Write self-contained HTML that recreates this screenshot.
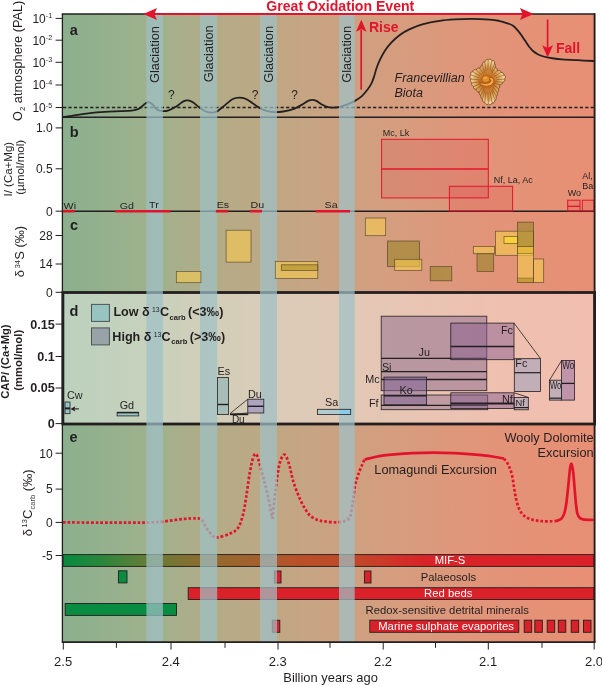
<!DOCTYPE html>
<html lang="en"><head><meta charset="utf-8"><title>Great Oxidation Event</title>
<style>
html,body{margin:0;padding:0;background:#fff;}
body{width:602px;height:685px;overflow:hidden;}
svg{display:block;}
text{font-family:"Liberation Sans",Arial,Helvetica,sans-serif;fill:#231f20;}
.b{font-weight:bold;}
.i{font-style:italic;}
.r{fill:#e2142d;}
.w{fill:#fff;}
.t{font-size:11.3px;}
.s{font-size:9px;}
.m{font-size:10.8px;}
</style></head><body>
<svg width="602" height="685" viewBox="0 0 602 685">
<defs>
<linearGradient id="bg" x1="0" x2="1" y1="0" y2="0">
<stop offset="0" stop-color="#8bb08d"/>
<stop offset="0.17" stop-color="#a0b18d"/>
<stop offset="0.30" stop-color="#b5ab86"/>
<stop offset="0.45" stop-color="#c5a583"/>
<stop offset="0.56" stop-color="#cfa080"/>
<stop offset="0.64" stop-color="#d79c7e"/>
<stop offset="0.80" stop-color="#e29478"/>
<stop offset="1" stop-color="#e88f75"/>
</linearGradient>
<linearGradient id="mif" x1="0" x2="1" y1="0" y2="0">
<stop offset="0" stop-color="#078a3f"/>
<stop offset="0.07" stop-color="#28873c"/>
<stop offset="0.156" stop-color="#647d37"/>
<stop offset="0.22" stop-color="#7d7332"/>
<stop offset="0.29" stop-color="#96692d"/>
<stop offset="0.37" stop-color="#a55f2d"/>
<stop offset="0.446" stop-color="#b95028"/>
<stop offset="0.52" stop-color="#bf4a28"/>
<stop offset="0.56" stop-color="#c24628"/>
<stop offset="0.60" stop-color="#ca3c28"/>
<stop offset="0.64" stop-color="#d32e28"/>
<stop offset="0.68" stop-color="#d82428"/>
<stop offset="1" stop-color="#da2129"/>
</linearGradient>
<radialGradient id="bio" gradientUnits="userSpaceOnUse" cx="0" cy="0" r="23" gradientTransform="translate(487.4,81.5) scale(0.78,1)">
<stop offset="0" stop-color="#bd6820"/>
<stop offset="0.32" stop-color="#c87428"/>
<stop offset="0.52" stop-color="#d48c3e"/>
<stop offset="0.72" stop-color="#e2ae68"/>
<stop offset="0.9" stop-color="#f0d092"/>
<stop offset="1" stop-color="#f5dca4"/>
</radialGradient>
<linearGradient id="sa" x1="0" x2="1" y1="0" y2="0"><stop offset="0" stop-color="#b6cbcd"/><stop offset="0.6" stop-color="#adcbd1"/><stop offset="0.7" stop-color="#8fcbe6"/><stop offset="1" stop-color="#84cdec"/></linearGradient>
</defs>

<rect x="63.0" y="14.0" width="531.0" height="628.0" fill="url(#bg)"/>
<rect x="63" y="292.5" width="531" height="131.5" fill="#fff" fill-opacity="0.42"/>
<path d="M62.5,117.1 C64.0,116.9 67.3,116.4 71.6,115.8 C75.9,115.2 82.7,114.0 88.2,113.3 C93.7,112.6 99.3,112.1 104.8,111.8 C110.3,111.5 116.7,111.4 121.4,111.2 C126.1,111.0 130.3,110.8 133.1,110.4 C135.9,110.1 136.7,109.7 138.1,109.1 C139.5,108.5 140.2,108.0 141.4,107.0 C142.6,106.0 144.2,104.2 145.5,103.4 C146.8,102.6 147.8,101.8 149.0,102.1 C150.2,102.3 151.8,103.8 153.0,104.9 C154.2,106.0 154.9,107.9 156.3,108.9 C157.7,109.9 159.4,110.6 161.3,110.9 C163.2,111.2 165.5,111.3 168.0,110.6 C170.5,109.9 173.8,108.1 176.3,106.6 C178.8,105.1 181.0,102.6 182.9,101.6 C184.8,100.5 186.2,100.2 187.9,100.3 C189.6,100.4 191.0,101.1 192.9,102.3 C194.8,103.5 197.3,106.0 199.5,107.6 C201.7,109.1 204.0,110.8 206.2,111.6 C208.4,112.4 210.9,112.7 212.8,112.6 C214.7,112.5 215.9,112.1 217.8,110.9 C219.8,109.7 222.0,107.6 224.5,105.6 C227.0,103.6 230.3,100.3 232.8,99.0 C235.3,97.7 237.2,97.6 239.4,97.6 C241.6,97.6 243.8,98.0 246.0,99.0 C248.2,100.0 250.4,101.8 252.7,103.3 C255.0,104.8 257.7,107.0 260.0,108.2 C262.3,109.5 264.1,110.1 266.6,110.8 C269.1,111.5 272.1,112.1 274.9,112.2 C277.7,112.3 280.1,112.0 283.2,111.5 C286.2,111.0 290.1,110.3 293.2,109.2 C296.2,108.1 299.0,106.3 301.5,104.9 C304.0,103.5 306.3,101.7 308.1,100.9 C309.9,100.1 311.1,99.9 312.5,99.9 C313.9,99.9 314.9,100.2 316.4,100.9 C317.9,101.6 319.5,103.2 321.4,104.2 C323.3,105.2 325.8,106.7 328.0,107.2 C330.2,107.8 332.7,107.5 334.7,107.5 C336.7,107.5 338.0,107.4 340.0,106.9 C342.0,106.4 344.2,105.6 346.6,104.7 C349.0,103.8 351.6,102.8 354.1,101.4 C356.6,100.0 359.4,98.3 361.6,96.4 C363.8,94.5 365.7,92.0 367.4,89.8 C369.1,87.6 370.5,85.3 371.6,83.1 C372.7,80.9 373.3,79.0 374.1,76.5 C374.9,74.0 375.5,71.0 376.5,68.2 C377.5,65.4 378.5,62.8 379.9,59.9 C381.3,57.0 383.0,53.6 384.9,50.7 C386.8,47.8 389.0,45.0 391.5,42.4 C394.0,39.8 396.8,37.1 399.8,34.9 C402.9,32.7 405.9,30.9 409.8,29.1 C413.7,27.3 418.1,25.5 423.1,24.1 C428.1,22.7 434.4,21.6 439.7,20.8 C445.0,20.0 449.7,19.7 455.0,19.4 C460.3,19.1 465.6,18.9 471.4,18.9 C477.2,18.9 485.4,19.3 490.0,19.6 C494.6,19.9 496.5,20.3 499.0,20.8 C501.5,21.3 503.2,22.1 505.0,22.6 C506.8,23.1 508.1,23.5 509.5,24.0 C510.9,24.5 511.9,24.9 513.1,25.8 C514.4,26.7 515.7,28.1 517.0,29.6 C518.3,31.1 519.8,32.9 521.1,34.7 C522.4,36.5 523.6,38.6 525.0,40.6 C526.4,42.6 527.9,45.1 529.2,46.8 C530.5,48.5 531.6,49.8 533.0,51.0 C534.4,52.2 535.8,53.2 537.3,54.0 C538.8,54.8 540.3,55.5 542.0,56.0 C543.7,56.5 545.3,56.9 547.3,57.3 C549.3,57.7 551.6,58.1 554.0,58.5 C556.4,58.9 557.6,59.1 561.5,59.4 C565.4,59.7 572.2,59.9 577.6,60.2 C583.0,60.5 591.3,60.9 594.0,61.0" fill="none" stroke="#231f20" stroke-width="1.8"/>
<line x1="63" y1="107.5" x2="594" y2="107.5" stroke="#231f20" stroke-width="1.5" stroke-dasharray="3.2 2.24"/>
<line x1="63" y1="117.2" x2="594" y2="117.2" stroke="#231f20" stroke-width="1.6"/>
<line x1="63" y1="211.2" x2="594" y2="211.2" stroke="#231f20" stroke-width="1.6"/>
<rect x="62.9" y="292.5" width="531.7" height="131.5" fill="none" stroke="#231f20" stroke-width="2.8"/>
<path d="M63.0,522.4 C69.2,522.4 88.8,522.6 100.0,522.6 C111.2,522.6 121.7,522.6 130.0,522.6 C138.3,522.6 144.4,522.6 150.0,522.4 C155.6,522.2 157.8,522.1 163.3,521.5 C168.8,520.9 177.7,519.5 183.2,519.0 C188.7,518.5 193.4,518.3 196.5,518.4 C199.6,518.5 199.8,518.1 201.5,519.7 C203.2,521.3 204.6,525.2 206.5,528.0 C208.4,530.8 211.2,534.8 213.1,536.3 C215.0,537.8 215.3,537.7 218.1,537.3 C220.9,536.9 226.4,535.2 229.7,533.7 C233.0,532.2 235.8,531.2 238.0,528.0 C240.2,524.8 241.6,520.0 243.0,514.7 C244.4,509.4 245.2,503.3 246.3,496.4 C247.4,489.5 248.6,479.6 249.7,473.2 C250.8,466.8 252.0,461.4 253.0,458.2 C254.0,455.0 254.8,453.9 255.6,453.9 C256.4,453.9 256.8,454.4 258.0,458.2 C259.2,462.0 261.3,470.1 263.0,476.5 C264.7,482.9 266.4,489.3 268.0,496.4 C269.6,503.5 271.6,515.2 272.3,519.0" fill="none" stroke="#e2142d" stroke-width="2.7" stroke-dasharray="2.7 1.95"/>
<path d="M272.3,519.0 C272.9,514.1 274.5,498.6 275.6,489.8 C276.7,481.1 277.7,472.2 278.9,466.5 C280.1,460.8 281.7,457.2 282.9,455.6 C284.1,454.0 285.0,454.6 286.2,456.6 C287.4,458.6 288.9,463.7 290.0,467.5 C291.1,471.3 291.6,475.6 292.7,479.4 C293.8,483.2 295.0,486.6 296.4,490.3 C297.8,494.0 299.5,498.1 301.0,501.3 C302.5,504.5 304.0,507.1 305.5,509.5 C307.0,511.9 308.1,513.9 310.1,515.6 C312.1,517.3 315.0,518.9 317.4,519.9 C319.8,520.9 321.6,521.0 324.7,521.4 C327.8,521.8 332.6,522.3 335.7,522.3 C338.8,522.3 341.0,521.8 343.0,521.4 C345.0,521.0 346.4,520.5 347.6,519.6 C348.8,518.7 349.5,518.0 350.3,515.9 C351.1,513.8 351.7,509.7 352.2,506.8 C352.7,503.9 352.9,502.0 353.3,498.6 C353.8,495.2 354.2,490.2 354.9,486.7 C355.6,483.2 356.5,480.1 357.3,477.5 C358.1,474.9 358.7,473.2 359.5,471.1 C360.3,469.0 361.4,466.6 362.2,464.7 C363.0,462.8 364.0,460.6 364.4,459.8" fill="none" stroke="#e2142d" stroke-width="2.7" stroke-dasharray="2.7 1.95"/>
<path d="M504.0,458.6 C504.8,459.7 507.3,462.6 508.6,465.3 C509.9,468.0 511.0,471.3 511.9,474.7 C512.8,478.1 513.2,482.1 513.8,485.8 C514.4,489.5 514.9,493.3 515.7,497.0 C516.5,500.7 517.5,505.1 518.8,508.1 C520.1,511.1 521.5,513.3 523.5,515.2 C525.5,517.1 527.8,518.3 530.9,519.3 C534.0,520.3 538.1,520.9 542.1,521.2 C546.1,521.5 552.5,521.2 554.6,521.2" fill="none" stroke="#e2142d" stroke-width="2.7" stroke-dasharray="2.7 1.95"/>
<path d="M364.6,459.5 C368.6,458.7 377.1,456.0 388.7,454.9 C400.3,453.8 418.9,452.6 434.0,452.6 C449.1,452.6 467.3,453.9 479.0,454.9 C490.7,455.9 499.8,457.9 504.0,458.5" fill="none" stroke="#e2142d" stroke-width="2.7"/>
<path d="M554.6,521.2 C555.2,521.1 556.8,520.9 558.0,520.4 C559.2,519.9 560.5,519.7 561.6,518.4 C562.7,517.1 563.6,515.3 564.4,512.8 C565.2,510.3 565.7,507.7 566.3,503.5 C566.9,499.3 567.5,493.0 568.1,487.7 C568.7,482.4 569.2,475.6 569.6,471.9 C570.0,468.2 570.3,466.7 570.6,465.3 C570.9,463.9 571.1,463.5 571.3,463.5 C571.5,463.5 571.7,463.9 572.0,465.3 C572.3,466.7 572.8,467.9 573.2,471.9 C573.7,475.9 574.2,484.1 574.7,489.5 C575.2,494.9 575.5,500.4 576.0,504.4 C576.5,508.4 576.8,511.5 577.4,513.7 C578.0,515.9 578.8,516.9 579.7,517.8 C580.6,518.7 580.7,518.9 583.0,519.3 C585.3,519.7 591.8,519.9 593.6,520.0" fill="none" stroke="#e2142d" stroke-width="2.7"/>
<rect x="63" y="554.6" width="531" height="11.8" fill="url(#mif)" stroke="#231f20" stroke-width="0.9"/>
<rect x="118.4" y="570.8" width="8.6" height="12.1" fill="#0a8b42" stroke="#231f20" stroke-width="0.9"/>
<rect x="274.4" y="571.0" width="6.6" height="12.0" fill="#da2129" stroke="#231f20" stroke-width="0.9"/>
<rect x="364.4" y="571.0" width="6.6" height="12.0" fill="#da2129" stroke="#231f20" stroke-width="0.9"/>
<rect x="188.2" y="587.7" width="405.8" height="11.8" fill="#da2129" stroke="#231f20" stroke-width="0.9"/>
<rect x="65.2" y="603.5" width="111.3" height="11.9" fill="#0a8b42" stroke="#231f20" stroke-width="0.9"/>
<rect x="272.3" y="620.2" width="7.5" height="12.1" fill="#da2129" stroke="#231f20" stroke-width="0.9"/>
<rect x="369.8" y="620.2" width="149.0" height="12.1" fill="#da2129" stroke="#231f20" stroke-width="0.9"/>
<rect x="524.2" y="620.2" width="7.5" height="12.1" fill="#da2129" stroke="#231f20" stroke-width="0.9"/>
<rect x="534.8" y="620.2" width="7.5" height="12.1" fill="#da2129" stroke="#231f20" stroke-width="0.9"/>
<rect x="547.2" y="620.2" width="7.5" height="12.1" fill="#da2129" stroke="#231f20" stroke-width="0.9"/>
<rect x="558.3" y="620.2" width="7.5" height="12.1" fill="#da2129" stroke="#231f20" stroke-width="0.9"/>
<rect x="571.2" y="620.2" width="7.5" height="12.1" fill="#da2129" stroke="#231f20" stroke-width="0.9"/>
<rect x="583.5" y="620.2" width="7.5" height="12.1" fill="#da2129" stroke="#231f20" stroke-width="0.9"/>
<rect x="146.4" y="14" width="16.5" height="628" fill="#9ec1c6" fill-opacity="0.72"/>
<rect x="200.0" y="14" width="17.2" height="628" fill="#9ec1c6" fill-opacity="0.72"/>
<rect x="260.0" y="14" width="17.0" height="628" fill="#9ec1c6" fill-opacity="0.72"/>
<rect x="339.0" y="14" width="15.7" height="628" fill="#9ec1c6" fill-opacity="0.72"/>
<line x1="63.0" y1="211.2" x2="74.8" y2="211.2" stroke="#e2142d" stroke-width="2.6"/>
<line x1="115.3" y1="211.2" x2="170.4" y2="211.2" stroke="#e2142d" stroke-width="2.6"/>
<line x1="215.9" y1="211.2" x2="228.2" y2="211.2" stroke="#e2142d" stroke-width="2.6"/>
<line x1="249.8" y1="211.2" x2="262.0" y2="211.2" stroke="#e2142d" stroke-width="2.6"/>
<line x1="315.6" y1="211.2" x2="350.0" y2="211.2" stroke="#e2142d" stroke-width="2.6"/>
<rect x="381.6" y="139.3" width="106.7" height="58.6" fill="#e2142d" fill-opacity="0.13" stroke="#e2142d" stroke-width="1"/>
<line x1="381.6" y1="169.0" x2="488.3" y2="169.0" stroke="#e2142d" stroke-width="1.3"/>
<rect x="449.4" y="186.3" width="63.2" height="24.7" fill="#e2142d" fill-opacity="0.13" stroke="#e2142d" stroke-width="1"/>
<rect x="567.7" y="200.2" width="12.3" height="10.8" fill="#e2142d" fill-opacity="0.13" stroke="#e2142d" stroke-width="1"/>
<line x1="567.7" y1="206.3" x2="580.0" y2="206.3" stroke="#e2142d" stroke-width="1.3"/>
<rect x="582.3" y="200.2" width="11.7" height="10.8" fill="#e2142d" fill-opacity="0.13" stroke="#e2142d" stroke-width="1"/>
<rect x="176.3" y="271.4" width="24.6" height="11.3" fill="#f4c851" fill-opacity="0.64" stroke="#3c3420" stroke-opacity="0.75" stroke-width="0.7"/>
<rect x="226.1" y="230.2" width="24.9" height="31.9" fill="#f4c851" fill-opacity="0.64" stroke="#3c3420" stroke-opacity="0.75" stroke-width="0.7"/>
<rect x="275.3" y="261.5" width="42.5" height="16.9" fill="#f4c851" fill-opacity="0.64" stroke="#3c3420" stroke-opacity="0.75" stroke-width="0.7"/>
<rect x="281.3" y="264.8" width="36.5" height="5.6" fill="#b8942c" fill-opacity="0.70" stroke="#3c3420" stroke-opacity="0.75" stroke-width="0.7"/>
<rect x="365.3" y="218.0" width="20.4" height="17.7" fill="#f4c851" fill-opacity="0.64" stroke="#3c3420" stroke-opacity="0.75" stroke-width="0.7"/>
<rect x="387.4" y="241.0" width="32.2" height="25.5" fill="#9e852e" fill-opacity="0.64" stroke="#3c3420" stroke-opacity="0.75" stroke-width="0.7"/>
<rect x="394.7" y="259.3" width="27.1" height="11.3" fill="#f4c851" fill-opacity="0.64" stroke="#3c3420" stroke-opacity="0.75" stroke-width="0.7"/>
<rect x="430.2" y="266.6" width="21.6" height="14.2" fill="#9e852e" fill-opacity="0.64" stroke="#3c3420" stroke-opacity="0.75" stroke-width="0.7"/>
<rect x="477.0" y="253.7" width="16.7" height="17.8" fill="#9e852e" fill-opacity="0.64" stroke="#3c3420" stroke-opacity="0.75" stroke-width="0.7"/>
<rect x="473.3" y="246.4" width="21.1" height="7.3" fill="#f4c851" fill-opacity="0.64" stroke="#3c3420" stroke-opacity="0.75" stroke-width="0.7"/>
<rect x="495.5" y="231.2" width="38.1" height="24.1" fill="#f4c851" fill-opacity="0.64" stroke="#3c3420" stroke-opacity="0.75" stroke-width="0.7"/>
<rect x="504.0" y="236.4" width="13.9" height="7.1" fill="#fbd03a" fill-opacity="1.00" stroke="#3c3420" stroke-opacity="0.75" stroke-width="0.7"/>
<rect x="517.4" y="222.1" width="16.2" height="31.5" fill="#9e852e" fill-opacity="0.64" stroke="#3c3420" stroke-opacity="0.75" stroke-width="0.7"/>
<rect x="517.4" y="246.5" width="16.2" height="35.9" fill="#f4c851" fill-opacity="0.64" stroke="#3c3420" stroke-opacity="0.75" stroke-width="0.7"/>
<rect x="517.4" y="278.0" width="16.2" height="4.4" fill="#b8942c" fill-opacity="0.75" stroke="#3c3420" stroke-opacity="0.75" stroke-width="0.4"/>
<rect x="517.4" y="246.5" width="16.2" height="7.1" fill="#e6b932" fill-opacity="0.55" stroke="#3c3420" stroke-opacity="0.75" stroke-width="0.4"/>
<rect x="533.6" y="259.0" width="10.1" height="23.4" fill="#f4c851" fill-opacity="0.64" stroke="#3c3420" stroke-opacity="0.75" stroke-width="0.7"/>
<rect x="91.5" y="304.4" width="17.9" height="17" fill="#97c4c0" stroke="#4d5557" stroke-width="1"/>
<rect x="91.5" y="327.9" width="17.9" height="17" fill="#98a3a8" stroke="#4d5557" stroke-width="1"/>
<rect x="65.0" y="402.0" width="5.0" height="11.7" fill="#8fc4c8" fill-opacity="1.00" stroke="#231f20" stroke-width="0.8"/>
<line x1="65.0" y1="408.4" x2="70.0" y2="408.4" stroke="#231f20" stroke-width="2.0"/>
<path d="M78.9,408.9 L72.5,408.9" stroke="#231f20" stroke-width="1.1" fill="none"/><path d="M70.4,408.9 L75.4,406.3 L74.2,408.9 L75.4,411.5 Z" fill="#231f20"/>
<rect x="117.1" y="412.4" width="21.6" height="3.5" fill="#93c6c9" fill-opacity="0.90" stroke="#231f20" stroke-width="0.8"/>
<line x1="117.1" y1="412.6" x2="138.7" y2="412.6" stroke="#231f20" stroke-width="1.6"/>
<rect x="217.5" y="377.4" width="10.9" height="37.2" fill="#88b4b6" fill-opacity="0.60" stroke="#231f20" stroke-width="0.8"/>
<line x1="217.5" y1="404.5" x2="228.4" y2="404.5" stroke="#231f20" stroke-width="1.4"/>
<rect x="247.8" y="399.2" width="16.0" height="13.8" fill="#a9a1c0" fill-opacity="0.92" stroke="#231f20" stroke-width="0.8"/>
<line x1="247.8" y1="406.3" x2="263.8" y2="406.3" stroke="#231f20" stroke-width="1.4"/>
<path d="M230,413.6 L247.8,399.2 M230,414.6 L247.8,413" stroke="#231f20" stroke-width="0.8" fill="none"/>
<line x1="230" y1="414.3" x2="248.3" y2="414.3" stroke="#231f20" stroke-width="1.8"/>
<rect x="317.5" y="409.3" width="33.2" height="5.3" fill="url(#sa)" stroke="#231f20" stroke-width="0.8"/>
<rect x="381.2" y="316.2" width="105.6" height="74.5" fill="#8a6a8e" fill-opacity="0.50" stroke="#231f20" stroke-width="0.8"/>
<line x1="381.2" y1="358.3" x2="486.8" y2="358.3" stroke="#231f20" stroke-width="1.3"/>
<line x1="381.2" y1="371.7" x2="486.8" y2="371.7" stroke="#231f20" stroke-width="1.3"/>
<line x1="381.2" y1="379.5" x2="486.8" y2="379.5" stroke="#231f20" stroke-width="1.3"/>
<rect x="381.2" y="395.0" width="106.5" height="14.7" fill="#8a6a8e" fill-opacity="0.45" stroke="#231f20" stroke-width="0.8"/>
<line x1="381.2" y1="405.4" x2="487.7" y2="405.4" stroke="#231f20" stroke-width="1.3"/>
<rect x="384.0" y="377.1" width="42.6" height="27.7" fill="#7d5f96" fill-opacity="0.50" stroke="#231f20" stroke-width="0.8"/>
<line x1="384.0" y1="395.7" x2="426.6" y2="395.7" stroke="#231f20" stroke-width="1.5"/>
<rect x="450.8" y="323.1" width="63.2" height="36.6" fill="#8a5f92" fill-opacity="0.50" stroke="#231f20" stroke-width="0.8"/>
<line x1="450.8" y1="346.6" x2="514.0" y2="346.6" stroke="#231f20" stroke-width="1.5"/>
<rect x="450.8" y="392.8" width="63.2" height="15.7" fill="#8a5f92" fill-opacity="0.50" stroke="#231f20" stroke-width="0.8"/>
<line x1="450.8" y1="403.6" x2="514.0" y2="403.6" stroke="#231f20" stroke-width="2.0"/>
<rect x="514.3" y="358.7" width="26.3" height="32.8" fill="#b9aab8" fill-opacity="0.85" stroke="#231f20" stroke-width="0.8"/>
<line x1="514.3" y1="372.7" x2="540.6" y2="372.7" stroke="#231f20" stroke-width="1.2"/>
<path d="M514,323.1 L540.6,358.7" stroke="#231f20" stroke-width="0.8" fill="none"/>
<rect x="514.3" y="397.4" width="14.0" height="12.4" fill="#b9aab8" fill-opacity="0.85" stroke="#231f20" stroke-width="0.8"/>
<line x1="514.3" y1="407.6" x2="528.3" y2="407.6" stroke="#231f20" stroke-width="1.2"/>
<path d="M514,392.8 L528.3,397.4" stroke="#231f20" stroke-width="0.8" fill="none"/>
<rect x="561.6" y="360.5" width="13.0" height="39.6" fill="#a57ea8" fill-opacity="0.65" stroke="#231f20" stroke-width="0.8"/>
<line x1="561.6" y1="383.4" x2="574.6" y2="383.4" stroke="#231f20" stroke-width="1.3"/>
<rect x="549.5" y="380.2" width="12.1" height="19.9" fill="#b9aab8" fill-opacity="0.85" stroke="#231f20" stroke-width="0.8"/>
<line x1="549.5" y1="398.2" x2="561.6" y2="398.2" stroke="#231f20" stroke-width="1.2"/>
<path d="M549.5,380.2 L561.6,360.5" stroke="#231f20" stroke-width="0.8" fill="none"/>
<text font-size="8.6" transform="translate(63.6,208.5) scale(1.24,1)">Wi</text>
<text font-size="8.6" transform="translate(119.8,208.5) scale(1.24,1)">Gd</text>
<text font-size="8.6" transform="translate(149.1,207.6) scale(1.24,1)">Tr</text>
<text font-size="8.6" transform="translate(216.7,208.2) scale(1.24,1)">Es</text>
<text font-size="8.6" transform="translate(250.6,208.2) scale(1.24,1)">Du</text>
<text font-size="8.6" transform="translate(324.6,208.2) scale(1.24,1)">Sa</text>
<text class="s" x="382.7" y="136.2">Mc, Lk</text>
<text class="s" x="493.7" y="183.0">Nf, La, Ac</text>
<text class="s" x="567.7" y="195.5">Wo</text>
<text class="s" x="582.3" y="178.6">Al,</text>
<text class="s" x="582.3" y="188.6">Ba</text>
<text class="b" font-size="12.6" x="113.4" y="316.4">Low δ<tspan font-size="6.8" font-weight="normal" dx="2.2" dy="-4.6">13</tspan><tspan dy="4.6" dx="0.4">C</tspan><tspan font-size="7.6" dy="3.2" dx="0.6">carb</tspan><tspan dy="-3.2" dx="2.4">(&lt;3‰)</tspan></text>
<text class="b" font-size="12.6" x="112.3" y="341.2">High δ<tspan font-size="6.8" font-weight="normal" dx="2.2" dy="-4.6">13</tspan><tspan dy="4.6" dx="0.4">C</tspan><tspan font-size="7.6" dy="3.2" dx="0.6">carb</tspan><tspan dy="-3.2" dx="2.4">(&gt;3‰)</tspan></text>
<text class="m" x="66.9" y="398.6">Cw</text>
<text class="m" x="119.7" y="408.9">Gd</text>
<text class="m" x="217.5" y="375.2">Es</text>
<text class="m" x="248.0" y="397.8">Du</text>
<text class="m" x="325.0" y="406.4">Sa</text>
<text class="m" x="418.6" y="355.7">Ju</text>
<text class="m" x="381.9" y="370.8">Si</text>
<text class="m" x="379.7" y="383.2" text-anchor="end">Mc</text>
<text class="m" x="399.6" y="394.4">Ko</text>
<text class="m" x="378.6" y="406.5" text-anchor="end">Ff</text>
<text class="m" x="501.0" y="333.6">Fc</text>
<text class="m" x="515.3" y="367.3">Fc</text>
<text class="m" x="501.9" y="403.0">Nf</text>
<text x="231.9" y="422.8" font-size="10">Du</text>
<text x="515.6" y="406.2" font-size="9.4">Nf</text>
<text x="562.2" y="368.6" font-size="10" textLength="12" lengthAdjust="spacingAndGlyphs">Wo</text>
<text x="550" y="389.3" font-size="10" textLength="11.4" lengthAdjust="spacingAndGlyphs">Wo</text>
<text x="374.3" y="474.1" font-size="12.75">Lomagundi Excursion</text>
<text x="593.6" y="442" font-size="12.75" text-anchor="end">Wooly Dolomite</text>
<text x="593.6" y="457.1" font-size="12.75" text-anchor="end">Excursion</text>
<text class="t w" x="450" y="564.3" text-anchor="middle">MIF-S</text>
<text class="t" x="420.8" y="580.7">Palaeosols</text>
<text class="t w" x="448.2" y="597.4" text-anchor="middle">Red beds</text>
<text class="t" x="365.6" y="614.3">Redox-sensitive detrital minerals</text>
<text class="t w" x="378.2" y="629.8">Marine sulphate evaporites</text>
<text font-size="12.8" transform="translate(158.5,82.95) rotate(-90)">Glaciation</text>
<text font-size="12.8" transform="translate(213.1,82.20) rotate(-90)">Glaciation</text>
<text font-size="12.8" transform="translate(272.7,82.80) rotate(-90)">Glaciation</text>
<text font-size="12.8" transform="translate(350.9,82.80) rotate(-90)">Glaciation</text>
<text class="b r" x="266.3" y="10.6" font-size="14.1">Great Oxidation Event</text>
<text class="b r" x="369" y="32" font-size="14">Rise</text>
<text class="b r" x="556" y="53" font-size="14">Fall</text>
<text x="168.0" y="99.4" font-size="12">?</text>
<text x="251.7" y="99.4" font-size="12">?</text>
<text x="291.3" y="99.4" font-size="12">?</text>
<text class="i" x="394.5" y="81.5" font-size="12.5">Francevillian</text>
<text class="i" x="394.5" y="97" font-size="12.5">Biota</text>
<text x="32.4" y="22.7" font-size="12">10<tspan font-size="7.2" dy="-4.3">-1</tspan></text>
<text x="32.4" y="44.5" font-size="12">10<tspan font-size="7.2" dy="-4.3">-2</tspan></text>
<text x="32.4" y="66.6" font-size="12">10<tspan font-size="7.2" dy="-4.3">-3</tspan></text>
<text x="32.4" y="89.3" font-size="12">10<tspan font-size="7.2" dy="-4.3">-4</tspan></text>
<text x="32.4" y="111.8" font-size="12">10<tspan font-size="7.2" dy="-4.3">-5</tspan></text>
<text x="52.6" y="132.2" text-anchor="end" font-size="12">1.0</text>
<text x="52.6" y="173.1" text-anchor="end" font-size="12">0.5</text>
<text x="52.6" y="215.5" text-anchor="end" font-size="12">0</text>
<text x="52.6" y="239.8" text-anchor="end" font-size="12">28</text>
<text x="52.6" y="268.3" text-anchor="end" font-size="12">14</text>
<text x="52.6" y="296.6" text-anchor="end" font-size="12">0</text>
<text x="52.6" y="457.5" text-anchor="end" font-size="12">10</text>
<text x="52.6" y="493.4" text-anchor="end" font-size="12">5</text>
<text x="52.6" y="526.7" text-anchor="end" font-size="12">0</text>
<text x="52.6" y="559.8" text-anchor="end" font-size="12">-5</text>
<text class="b" x="54.8" y="328.5" text-anchor="end" font-size="12.6">0.15</text>
<text class="b" x="54.8" y="360.9" text-anchor="end" font-size="12.6">0.1</text>
<text class="b" x="54.8" y="392.4" text-anchor="end" font-size="12.6">0.05</text>
<text class="b" x="54.8" y="428.0" text-anchor="end" font-size="12.6">0</text>
<text x="63.1" y="665.5" font-size="13" text-anchor="middle">2.5</text>
<text x="170.8" y="665.5" font-size="13" text-anchor="middle">2.4</text>
<text x="277.8" y="665.5" font-size="13" text-anchor="middle">2.3</text>
<text x="383.0" y="665.5" font-size="13" text-anchor="middle">2.2</text>
<text x="488.1" y="665.5" font-size="13" text-anchor="middle">2.1</text>
<text x="594.0" y="665.5" font-size="13" text-anchor="middle">2.0</text>
<text x="283.3" y="681.6" font-size="12.9">Billion years ago</text>
<text class="b" x="69.8" y="35.0" font-size="14.5">a</text>
<text class="b" x="69.8" y="137.2" font-size="14.5">b</text>
<text class="b" x="70.0" y="230.0" font-size="14.5">c</text>
<text class="b" x="69.5" y="316.2" font-size="14.5">d</text>
<text class="b" x="69.5" y="442.4" font-size="14.5">e</text>
<text font-size="12.75" transform="translate(22,121) rotate(-90)">O<tspan font-size="7.8" dy="3">2</tspan><tspan dy="-3"> atmosphere (PAL)</tspan></text>
<text font-size="11.5" text-anchor="middle" transform="translate(11.6,169.2) rotate(-90)">I/ (Ca+Mg)</text>
<text font-size="11.6" text-anchor="middle" transform="translate(24,167.3) rotate(-90)">(µmol/mol)</text>
<text font-size="13" transform="translate(24.2,277.2) rotate(-90)">δ<tspan font-size="7.4" dx="1.6" dy="-4.4">34</tspan><tspan dy="4.4" dx="0.3">S (‰)</tspan></text>
<text class="b" font-size="11.2" text-anchor="middle" transform="translate(8.5,361.6) rotate(-90)">CAP/ (Ca+Mg)</text>
<text class="b" font-size="11.3" text-anchor="middle" transform="translate(22.2,360.3) rotate(-90)">(mmol/mol)</text>
<text font-size="13" transform="translate(31.7,536.3) rotate(-90)">δ<tspan font-size="7.4" dx="1.6" dy="-4.4">13</tspan><tspan dy="4.4" dx="0.3">C</tspan><tspan font-size="7.6" dy="3" style="fill:#4a4647">carb</tspan><tspan dy="-3"> (‰)</tspan></text>
<path d="M62.4,14 L62.4,642.6" fill="none" stroke="#231f20" stroke-width="1.3"/>
<path d="M61.8,642.2 L595.5,642.2" fill="none" stroke="#231f20" stroke-width="1.7"/>
<path d="M594.6,13.2 L594.6,642.6" fill="none" stroke="#231f20" stroke-width="1.9"/>
<path d="M61.8,14 L146,14 M531,14 L595,14" fill="none" stroke="#231f20" stroke-width="1.6"/>
<line x1="152" y1="14" x2="525" y2="14" stroke="#e2142d" stroke-width="2"/>
<path d="M143.3,14 L157,8 L154.3,14 L157,19.9 Z" fill="#e2142d"/>
<path d="M533.6,14 L519.9,8 L522.6,14 L519.9,19.9 Z" fill="#e2142d"/>
<line x1="361.2" y1="30" x2="361.2" y2="89.7" stroke="#e2142d" stroke-width="1.7"/>
<path d="M361.3,19.8 L356,31.8 L361.3,29.2 L366.6,31.8 Z" fill="#e2142d"/>
<line x1="547.6" y1="19.5" x2="547.6" y2="48" stroke="#e2142d" stroke-width="1.7"/>
<path d="M547.6,57.4 L542.2,45.2 L547.6,47.9 L553,45.2 Z" fill="#e2142d"/>
<g><path d="M484.8,62.2 L485.0,61.7 L485.2,61.2 L485.4,60.8 L485.7,60.4 L486.0,60.1 L486.3,59.9 L486.6,59.7 L486.9,59.6 L487.3,59.6 L487.6,59.7 L487.9,59.9 L488.2,60.0 L488.5,59.7 L488.9,59.4 L489.2,59.2 L489.6,59.1 L490.0,59.1 L490.3,59.2 L490.7,59.4 L491.0,59.6 L491.3,60.0 L491.6,60.3 L491.8,60.8 L492.1,60.8 L492.4,60.6 L492.7,60.6 L493.0,60.5 L493.3,60.6 L493.5,60.6 L493.7,60.7 L493.9,60.9 L494.1,61.1 L494.2,61.3 L494.4,61.6 L494.5,62.0 L494.5,62.4 L494.6,62.9 L494.5,63.5 L494.7,63.6 L494.9,63.7 L495.0,63.9 L495.1,64.1 L495.2,64.4 L495.3,64.8 L495.3,65.3 L495.3,65.8 L495.3,66.4 L495.2,66.9 L495.2,67.6 L495.5,67.6 L495.8,67.6 L496.0,67.8 L496.3,67.9 L496.5,68.1 L496.7,68.4 L496.9,68.7 L497.1,69.0 L497.2,69.3 L497.3,69.6 L497.3,70.0 L497.4,70.3 L497.4,70.6 L497.5,70.7 L497.9,70.6 L498.2,70.6 L498.5,70.5 L498.7,70.5 L499.0,70.5 L499.3,70.5 L499.6,70.5 L499.8,70.6 L500.1,70.7 L500.3,70.9 L500.5,71.1 L500.7,71.4 L500.8,71.7 L500.9,72.0 L500.9,72.4 L501.3,72.5 L501.9,72.6 L502.3,72.7 L502.7,72.8 L503.1,73.0 L503.3,73.2 L503.5,73.5 L503.7,73.7 L503.8,74.0 L503.9,74.3 L503.9,74.6 L503.8,74.9 L503.7,75.2 L504.2,75.3 L504.5,75.5 L504.8,75.7 L505.1,75.9 L505.3,76.2 L505.4,76.5 L505.5,76.8 L505.5,77.1 L505.4,77.5 L505.2,77.8 L505.0,78.2 L504.7,78.6 L504.3,79.0 L504.6,79.3 L504.7,79.6 L504.9,79.9 L504.9,80.2 L504.8,80.5 L504.7,80.8 L504.5,81.1 L504.2,81.3 L503.9,81.6 L503.4,81.9 L502.9,82.1 L502.3,82.3 L502.5,82.6 L502.5,82.9 L502.5,83.1 L502.4,83.4 L502.3,83.6 L502.2,83.8 L501.9,84.0 L501.7,84.1 L501.4,84.3 L501.0,84.4 L500.7,84.5 L500.3,84.6 L499.9,84.7 L499.5,84.8 L499.4,85.0 L499.5,85.3 L499.5,85.5 L499.6,85.8 L499.6,86.1 L499.7,86.3 L499.7,86.6 L499.7,86.8 L499.7,87.1 L499.6,87.3 L499.5,87.6 L499.4,87.8 L499.3,88.0 L499.0,88.2 L498.8,88.4 L498.4,88.5 L498.4,88.8 L498.5,89.3 L498.6,89.8 L498.7,90.3 L498.6,90.7 L498.6,91.1 L498.4,91.4 L498.2,91.7 L498.0,91.9 L497.8,92.1 L497.5,92.2 L497.2,92.3 L497.3,92.8 L497.4,93.4 L497.4,93.9 L497.4,94.3 L497.3,94.7 L497.2,95.1 L497.1,95.4 L497.0,95.6 L496.8,95.8 L496.5,96.0 L496.3,96.1 L496.1,96.2 L496.2,96.8 L496.2,97.4 L496.2,97.9 L496.2,98.4 L496.2,98.8 L496.1,99.2 L495.9,99.4 L495.7,99.7 L495.5,99.8 L495.3,99.9 L495.0,99.9 L494.8,100.2 L494.8,100.8 L494.6,101.3 L494.5,101.8 L494.3,102.2 L494.1,102.5 L493.8,102.7 L493.5,102.9 L493.2,102.9 L492.9,102.9 L492.6,102.9 L492.2,102.7 L492.0,103.2 L491.7,103.6 L491.4,104.0 L491.1,104.2 L490.7,104.4 L490.4,104.6 L490.0,104.6 L489.6,104.5 L489.3,104.4 L488.9,104.2 L488.6,103.9 L488.3,103.8 L488.0,104.1 L487.7,104.3 L487.4,104.4 L487.0,104.4 L486.7,104.4 L486.4,104.3 L486.1,104.2 L485.8,103.9 L485.6,103.7 L485.3,103.3 L485.1,103.0 L484.9,102.5 L484.7,102.3 L484.4,102.4 L484.2,102.4 L483.9,102.4 L483.7,102.3 L483.5,102.1 L483.3,101.9 L483.1,101.6 L482.9,101.3 L482.8,101.0 L482.6,100.5 L482.5,100.0 L482.5,99.5 L482.4,99.1 L482.1,99.1 L481.9,99.0 L481.8,98.9 L481.6,98.7 L481.4,98.5 L481.3,98.2 L481.2,97.9 L481.1,97.4 L481.0,97.0 L480.9,96.4 L480.9,95.8 L480.8,95.4 L480.5,95.4 L480.2,95.2 L480.0,95.1 L479.8,94.8 L479.6,94.5 L479.4,94.2 L479.3,93.8 L479.2,93.3 L479.2,92.9 L479.1,92.4 L479.1,91.9 L478.8,91.9 L478.5,91.9 L478.1,91.9 L477.8,91.8 L477.6,91.7 L477.3,91.6 L477.0,91.4 L476.8,91.2 L476.6,91.0 L476.5,90.7 L476.3,90.3 L476.3,90.0 L476.3,89.5 L476.1,89.2 L475.5,89.2 L475.0,89.1 L474.6,88.9 L474.2,88.7 L473.9,88.4 L473.7,88.1 L473.5,87.8 L473.5,87.4 L473.5,87.0 L473.6,86.6 L473.4,86.3 L472.9,86.0 L472.4,85.8 L472.1,85.5 L471.8,85.2 L471.7,84.8 L471.6,84.4 L471.6,84.1 L471.6,83.7 L471.8,83.3 L472.0,82.9 L471.7,82.6 L471.4,82.3 L471.1,82.0 L470.8,81.7 L470.7,81.4 L470.5,81.0 L470.5,80.7 L470.5,80.4 L470.6,80.0 L470.7,79.7 L470.9,79.4 L471.2,79.1 L471.1,78.8 L470.7,78.4 L470.4,78.1 L470.2,77.7 L470.0,77.3 L469.9,77.0 L469.9,76.6 L469.9,76.3 L470.0,76.0 L470.2,75.7 L470.5,75.5 L470.8,75.3 L471.1,75.0 L470.8,74.6 L470.7,74.2 L470.6,73.8 L470.6,73.4 L470.7,73.0 L470.8,72.7 L471.1,72.4 L471.3,72.2 L471.7,72.0 L472.0,71.9 L472.4,71.8 L472.9,71.7 L473.0,71.4 L473.0,71.1 L473.1,70.8 L473.2,70.6 L473.4,70.4 L473.6,70.2 L473.9,70.0 L474.2,69.9 L474.6,69.8 L475.0,69.8 L475.4,69.8 L475.9,69.8 L476.5,69.9 L476.5,69.6 L476.7,69.2 L476.8,68.9 L477.1,68.7 L477.3,68.5 L477.6,68.3 L477.9,68.2 L478.3,68.1 L478.6,68.1 L478.9,68.1 L479.2,68.1 L479.6,68.2 L479.9,68.3 L480.1,68.1 L480.1,67.8 L480.2,67.5 L480.3,67.3 L480.5,67.0 L480.6,66.8 L480.7,66.5 L480.9,66.3 L481.0,66.0 L481.2,65.8 L481.3,65.6 L481.5,65.5 L481.7,65.3 L481.9,65.2 L482.1,65.2 L482.3,65.2 L482.3,64.6 L482.4,64.1 L482.5,63.7 L482.6,63.3 L482.7,63.0 L482.8,62.8 L483.0,62.5 L483.1,62.4 L483.3,62.2 L483.5,62.1 L483.7,62.1 L483.8,62.0 L484.1,62.0 L484.3,62.0 L484.5,62.1 Z" fill="url(#bio)" stroke="#6a3d1a" stroke-width="0.85" stroke-linejoin="round"/><line x1="486.1" y1="71.2" x2="484.8" y2="62.3" stroke="#6e3f18" stroke-width="0.6" stroke-opacity="0.85"/><line x1="487.9" y1="70.2" x2="488.2" y2="60.2" stroke="#6e3f18" stroke-width="0.6" stroke-opacity="0.85"/><line x1="489.8" y1="70.6" x2="491.8" y2="61.0" stroke="#6e3f18" stroke-width="0.6" stroke-opacity="0.85"/><line x1="491.2" y1="71.9" x2="494.5" y2="63.6" stroke="#6e3f18" stroke-width="0.6" stroke-opacity="0.85"/><line x1="491.5" y1="74.0" x2="495.2" y2="67.5" stroke="#6e3f18" stroke-width="0.6" stroke-opacity="0.85"/><line x1="492.7" y1="75.6" x2="497.5" y2="70.7" stroke="#6e3f18" stroke-width="0.6" stroke-opacity="0.85"/><line x1="494.4" y1="76.5" x2="500.8" y2="72.5" stroke="#6e3f18" stroke-width="0.6" stroke-opacity="0.85"/><line x1="495.9" y1="77.9" x2="503.7" y2="75.2" stroke="#6e3f18" stroke-width="0.6" stroke-opacity="0.85"/><line x1="496.2" y1="79.9" x2="504.3" y2="79.0" stroke="#6e3f18" stroke-width="0.6" stroke-opacity="0.85"/><line x1="495.2" y1="81.6" x2="502.4" y2="82.3" stroke="#6e3f18" stroke-width="0.6" stroke-opacity="0.85"/><line x1="493.8" y1="82.9" x2="499.5" y2="84.8" stroke="#6e3f18" stroke-width="0.6" stroke-opacity="0.85"/><line x1="493.2" y1="84.7" x2="498.4" y2="88.4" stroke="#6e3f18" stroke-width="0.6" stroke-opacity="0.85"/><line x1="492.6" y1="86.7" x2="497.2" y2="92.3" stroke="#6e3f18" stroke-width="0.6" stroke-opacity="0.85"/><line x1="492.0" y1="88.7" x2="496.1" y2="96.1" stroke="#6e3f18" stroke-width="0.6" stroke-opacity="0.85"/><line x1="491.4" y1="90.5" x2="494.9" y2="99.6" stroke="#6e3f18" stroke-width="0.6" stroke-opacity="0.85"/><line x1="490.0" y1="92.0" x2="492.2" y2="102.5" stroke="#6e3f18" stroke-width="0.6" stroke-opacity="0.85"/><line x1="487.9" y1="92.5" x2="488.3" y2="103.5" stroke="#6e3f18" stroke-width="0.6" stroke-opacity="0.85"/><line x1="486.1" y1="91.7" x2="484.7" y2="102.0" stroke="#6e3f18" stroke-width="0.6" stroke-opacity="0.85"/><line x1="484.9" y1="90.1" x2="482.4" y2="98.9" stroke="#6e3f18" stroke-width="0.6" stroke-opacity="0.85"/><line x1="484.1" y1="88.3" x2="480.9" y2="95.3" stroke="#6e3f18" stroke-width="0.6" stroke-opacity="0.85"/><line x1="483.2" y1="86.6" x2="479.1" y2="92.0" stroke="#6e3f18" stroke-width="0.6" stroke-opacity="0.85"/><line x1="481.7" y1="85.1" x2="476.1" y2="89.2" stroke="#6e3f18" stroke-width="0.6" stroke-opacity="0.85"/><line x1="480.4" y1="83.7" x2="473.7" y2="86.5" stroke="#6e3f18" stroke-width="0.6" stroke-opacity="0.85"/><line x1="479.6" y1="81.9" x2="472.1" y2="82.9" stroke="#6e3f18" stroke-width="0.6" stroke-opacity="0.85"/><line x1="479.2" y1="79.9" x2="471.3" y2="79.1" stroke="#6e3f18" stroke-width="0.6" stroke-opacity="0.85"/><line x1="479.1" y1="77.8" x2="471.1" y2="75.0" stroke="#6e3f18" stroke-width="0.6" stroke-opacity="0.85"/><line x1="480.1" y1="76.1" x2="473.0" y2="71.8" stroke="#6e3f18" stroke-width="0.6" stroke-opacity="0.85"/><line x1="481.8" y1="75.2" x2="476.4" y2="69.9" stroke="#6e3f18" stroke-width="0.6" stroke-opacity="0.85"/><line x1="483.6" y1="74.4" x2="479.9" y2="68.3" stroke="#6e3f18" stroke-width="0.6" stroke-opacity="0.85"/><line x1="484.9" y1="72.8" x2="482.3" y2="65.2" stroke="#6e3f18" stroke-width="0.6" stroke-opacity="0.85"/><ellipse cx="487" cy="81.6" rx="8.6" ry="6.6" fill="#b9601a" fill-opacity="0.55"/><path d="M486.5,86 C489,90 490,95 489,100" stroke="#c4702a" stroke-opacity="0.45" stroke-width="3" fill="none" stroke-linecap="round"/><ellipse cx="485.9" cy="79.1" rx="3.9" ry="3.4" fill="#e88c2a" stroke="#8a4a14" stroke-width="0.4"/><ellipse cx="485.3" cy="78" rx="1.9" ry="1.3" fill="#f3ab52" fill-opacity="0.75"/><path d="M479.8,82.2 C480.8,86 486.2,87 490.4,85.4 C494.2,83.8 494.8,79.4 492.2,77.8 C490.6,76.9 488.8,77.9 489.2,79.2 C491,79 491.6,80.8 490,82.2 C487.2,84.2 482.8,83.8 479.8,82.2 Z" fill="#f4a740" stroke="#834412" stroke-width="0.55" stroke-linejoin="round"/></g>
<line x1="55.6" y1="18.4" x2="62.4" y2="18.4" stroke="#231f20" stroke-width="1.0"/>
<line x1="55.6" y1="40.2" x2="62.4" y2="40.2" stroke="#231f20" stroke-width="1.0"/>
<line x1="55.6" y1="62.3" x2="62.4" y2="62.3" stroke="#231f20" stroke-width="1.0"/>
<line x1="55.6" y1="85.0" x2="62.4" y2="85.0" stroke="#231f20" stroke-width="1.0"/>
<line x1="55.6" y1="107.5" x2="62.4" y2="107.5" stroke="#231f20" stroke-width="1.0"/>
<line x1="55.6" y1="127.9" x2="62.4" y2="127.9" stroke="#231f20" stroke-width="1.0"/>
<line x1="55.6" y1="168.8" x2="62.4" y2="168.8" stroke="#231f20" stroke-width="1.0"/>
<line x1="55.6" y1="211.2" x2="62.4" y2="211.2" stroke="#231f20" stroke-width="1.0"/>
<line x1="55.6" y1="235.5" x2="62.4" y2="235.5" stroke="#231f20" stroke-width="1.0"/>
<line x1="55.6" y1="264.0" x2="62.4" y2="264.0" stroke="#231f20" stroke-width="1.0"/>
<line x1="55.6" y1="292.3" x2="62.4" y2="292.3" stroke="#231f20" stroke-width="1.0"/>
<line x1="55.6" y1="453.2" x2="62.4" y2="453.2" stroke="#231f20" stroke-width="1.0"/>
<line x1="55.6" y1="489.1" x2="62.4" y2="489.1" stroke="#231f20" stroke-width="1.0"/>
<line x1="55.6" y1="522.4" x2="62.4" y2="522.4" stroke="#231f20" stroke-width="1.0"/>
<line x1="55.6" y1="555.5" x2="62.4" y2="555.5" stroke="#231f20" stroke-width="1.0"/>
<line x1="55.6" y1="324.1" x2="62.4" y2="324.1" stroke="#231f20" stroke-width="1.0"/>
<line x1="55.6" y1="356.5" x2="62.4" y2="356.5" stroke="#231f20" stroke-width="1.0"/>
<line x1="55.6" y1="388.0" x2="62.4" y2="388.0" stroke="#231f20" stroke-width="1.0"/>
<line x1="55.6" y1="423.6" x2="62.4" y2="423.6" stroke="#231f20" stroke-width="1.0"/>
<line x1="63.3" y1="642" x2="63.3" y2="649.6" stroke="#231f20" stroke-width="1"/>
<line x1="116.4" y1="642" x2="116.4" y2="647.8" stroke="#231f20" stroke-width="1"/>
<line x1="171.0" y1="642" x2="171.0" y2="649.6" stroke="#231f20" stroke-width="1"/>
<line x1="225.0" y1="642" x2="225.0" y2="647.8" stroke="#231f20" stroke-width="1"/>
<line x1="278.0" y1="642" x2="278.0" y2="649.6" stroke="#231f20" stroke-width="1"/>
<line x1="330.0" y1="642" x2="330.0" y2="647.8" stroke="#231f20" stroke-width="1"/>
<line x1="383.2" y1="642" x2="383.2" y2="649.6" stroke="#231f20" stroke-width="1"/>
<line x1="435.5" y1="642" x2="435.5" y2="647.8" stroke="#231f20" stroke-width="1"/>
<line x1="488.3" y1="642" x2="488.3" y2="649.6" stroke="#231f20" stroke-width="1"/>
<line x1="542.0" y1="642" x2="542.0" y2="647.8" stroke="#231f20" stroke-width="1"/>
<line x1="594.2" y1="642" x2="594.2" y2="649.6" stroke="#231f20" stroke-width="1"/>
</svg></body></html>
